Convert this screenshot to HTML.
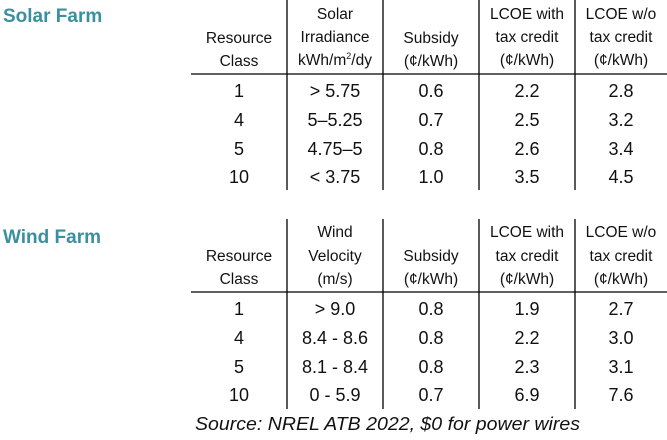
<!DOCTYPE html>
<html><head><meta charset="utf-8"><style>
html,body{margin:0;padding:0;background:#fff;}
svg{display:block;font-family:"Liberation Sans",sans-serif;}
.h{font-size:15.5px;fill:#111;text-anchor:middle;}
.d{font-size:18px;fill:#111;text-anchor:middle;}
.t{font-size:19px;font-weight:bold;fill:#3a8fa0;}
</style></head><body>
<svg width="667" height="440" viewBox="0 0 667 440">
<g>
<text class="t" x="3" y="22">Solar Farm</text>
<g stroke="#000" stroke-width="1.3">
<line x1="191" y1="74" x2="667" y2="74"/>
<line x1="287" y1="0" x2="287" y2="190"/>
<line x1="383" y1="0" x2="383" y2="190"/>
<line x1="479" y1="0" x2="479" y2="190"/>
<line x1="575" y1="0" x2="575" y2="190"/>
</g>
<g>
<text class="h" x="239" y="43">Resource</text><text class="h" x="239" y="66">Class</text>
<text class="h" x="335" y="19">Solar</text><text class="h" x="335" y="42">Irradiance</text>
<text class="h" x="335" y="65">kWh/m<tspan font-size="9" dy="-6">2</tspan><tspan dy="6">/dy</tspan></text>
<text class="h" x="431" y="43">Subsidy</text><text class="h" x="431" y="66">(¢/kWh)</text>
<text class="h" x="527" y="19">LCOE with</text><text class="h" x="527" y="42">tax credit</text><text class="h" x="527" y="65">(¢/kWh)</text>
<text class="h" x="621" y="19">LCOE w/o</text><text class="h" x="621" y="42">tax credit</text><text class="h" x="621" y="65">(¢/kWh)</text>
</g>
<g>
<text class="d" x="239" y="97">1</text><text class="d" x="335" y="97">&gt; 5.75</text><text class="d" x="431" y="97">0.6</text><text class="d" x="527" y="97">2.2</text><text class="d" x="621" y="97">2.8</text>
<text class="d" x="239" y="126">4</text><text class="d" x="335" y="126">5–5.25</text><text class="d" x="431" y="126">0.7</text><text class="d" x="527" y="126">2.5</text><text class="d" x="621" y="126">3.2</text>
<text class="d" x="239" y="155">5</text><text class="d" x="335" y="155">4.75–5</text><text class="d" x="431" y="155">0.8</text><text class="d" x="527" y="155">2.6</text><text class="d" x="621" y="155">3.4</text>
<text class="d" x="239" y="183">10</text><text class="d" x="335" y="183">&lt; 3.75</text><text class="d" x="431" y="183">1.0</text><text class="d" x="527" y="183">3.5</text><text class="d" x="621" y="183">4.5</text>
</g>
</g>
<g>
<text class="t" x="3" y="243">Wind Farm</text>
<g stroke="#000" stroke-width="1.3">
<line x1="191" y1="292" x2="667" y2="292"/>
<line x1="287" y1="219" x2="287" y2="409"/>
<line x1="383" y1="219" x2="383" y2="409"/>
<line x1="479" y1="219" x2="479" y2="409"/>
<line x1="575" y1="219" x2="575" y2="409"/>
</g>
<g>
<text class="h" x="239" y="261">Resource</text><text class="h" x="239" y="284">Class</text>
<text class="h" x="335" y="237">Wind</text><text class="h" x="335" y="261">Velocity</text><text class="h" x="335" y="284">(m/s)</text>
<text class="h" x="431" y="261">Subsidy</text><text class="h" x="431" y="284">(¢/kWh)</text>
<text class="h" x="527" y="237">LCOE with</text><text class="h" x="527" y="261">tax credit</text><text class="h" x="527" y="284">(¢/kWh)</text>
<text class="h" x="621" y="237">LCOE w/o</text><text class="h" x="621" y="261">tax credit</text><text class="h" x="621" y="284">(¢/kWh)</text>
</g>
<g>
<text class="d" x="239" y="315">1</text><text class="d" x="335" y="315">&gt; 9.0</text><text class="d" x="431" y="315">0.8</text><text class="d" x="527" y="315">1.9</text><text class="d" x="621" y="315">2.7</text>
<text class="d" x="239" y="344">4</text><text class="d" x="335" y="344">8.4 - 8.6</text><text class="d" x="431" y="344">0.8</text><text class="d" x="527" y="344">2.2</text><text class="d" x="621" y="344">3.0</text>
<text class="d" x="239" y="373">5</text><text class="d" x="335" y="373">8.1 - 8.4</text><text class="d" x="431" y="373">0.8</text><text class="d" x="527" y="373">2.3</text><text class="d" x="621" y="373">3.1</text>
<text class="d" x="239" y="401">10</text><text class="d" x="335" y="401">0 - 5.9</text><text class="d" x="431" y="401">0.7</text><text class="d" x="527" y="401">6.9</text><text class="d" x="621" y="401">7.6</text>
</g>
</g>
<text x="195" y="430" font-size="18" font-style="italic" fill="#111" textLength="385" lengthAdjust="spacingAndGlyphs">Source: NREL ATB 2022, $0 for power wires</text>
</svg>
</body></html>
